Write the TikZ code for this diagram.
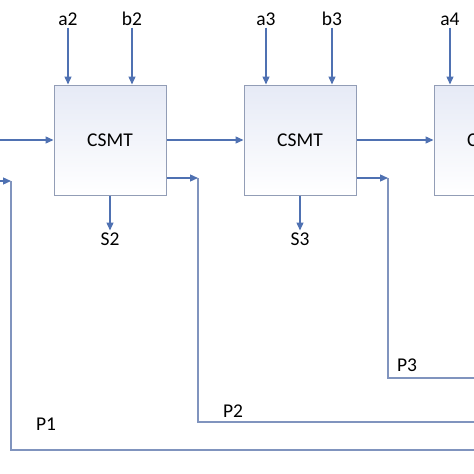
\documentclass[tikz,border=0pt]{standalone}
\usepackage{fontspec}
\setmainfont{Carlito}
\usetikzlibrary{calc, positioning, arrows.meta}
\definecolor{linecol}{RGB}{79,113,178}
\definecolor{fbcol}{RGB}{128,148,190}
\definecolor{boxline}{RGB}{146,157,182}
\definecolor{boxtop}{RGB}{230,234,246}

\begin{document}
\begin{tikzpicture}
			[x=1pt, y=-1pt, node distance=77pt,
			 every node/.style={font=\fontsize{19.5}{23}\selectfont},
			 csmt/.style={draw=boxline, line width=1pt, top color=boxtop, bottom color=white,
			 	minimum width=112pt, minimum height=110pt, inner sep=0pt},
			 lbl/.style={inner sep=2pt, text height=13pt, text depth=0pt},
			 flow/.style={draw=linecol, line width=1.3pt, -{Triangle[length=8pt,width=7pt]}},
			 fb/.style={draw=fbcol, line width=1.1pt}]
		\useasboundingbox (0,0) rectangle (474,474);
		\clip (0,0) rectangle (474,474);
		% nodes %
		\node[csmt] (csmtA) at (110,140) {CSMT};
		\node[csmt, right=of csmtA] (csmtB) {CSMT};
		\node[csmt, right=of csmtB] (csmtC) {CSMT};
		\node[lbl] (a2) at (68,19) {a2};
		\node[lbl] (b2) at (132,19) {b2};
		\node[lbl] (a3) at (266,19) {a3};
		\node[lbl] (b3) at (332,19) {b3};
		\node[lbl] (a4) at (450,19) {a4};
		\node[lbl, below=35pt of csmtA] (s2) {S2};
		\node[lbl, below=35pt of csmtB] (s3) {S3};
		\node[lbl] (p1) at (46,424) {P1};
		\node[lbl] (p2) at (233,411) {P2};
		\node[lbl] (p3) at (407,365) {P3};
		\coordinate (in) at (-5,140);
		\coordinate (in1) at (-5,181);
		\coordinate (o1) at (11,181);
		\coordinate (oA) at (198,178);
		\coordinate (oB) at (388,178);
		\coordinate (end1) at (480,450);
		\coordinate (endA) at (480,422);
		\coordinate (endB) at (480,378);
 
		% edges %
		\draw[flow] (in) -- (csmtA.west);
		\draw[flow] (csmtA.east) -- (csmtB.west);
		\draw[flow] (csmtB.east) -- (csmtC.west);
		\draw[flow] (a2) -- (a2 |- csmtA.north);
		\draw[flow] (b2) -- (b2 |- csmtA.north);
		\draw[flow] (a3) -- (a3 |- csmtB.north);
		\draw[flow] (b3) -- (b3 |- csmtB.north);
		\draw[flow] (a4) -- (a4 |- csmtC.north);
		\draw[flow] (csmtA.south) -- (s2.north);
		\draw[flow] (csmtB.south) -- (s3.north);
		\draw[flow] (in1) -- (o1);
		\draw[flow] (csmtA.east |- oA) -- (oA);
		\draw[flow] (csmtB.east |- oB) -- (oB);
		\draw[fb] (o1) |- (end1);
		\draw[fb] (oA) |- (endA);
		\draw[fb] (oB) |- (endB);
		\end{tikzpicture}
\end{document}
